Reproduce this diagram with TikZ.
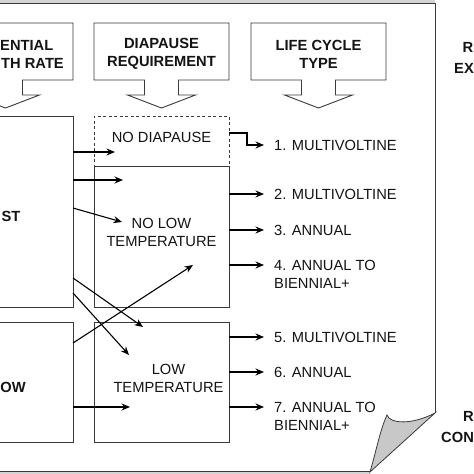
\documentclass[tikz,border=0pt]{standalone}
\usepackage{fontspec}
\setmainfont{Liberation Sans}
\usetikzlibrary{arrows.meta,calc}
\definecolor{edgec}{HTML}{3A3A3A}
\definecolor{bandc}{HTML}{D4D4D4}
\definecolor{foldc}{HTML}{C8C8C8}
\definecolor{txtc}{HTML}{141414}
\begin{document}
\begin{tikzpicture}[x=1pt,y=-1pt,
  box/.style={draw=edgec, line width=0.9pt, inner sep=0pt, outer sep=0pt, minimum width=135pt},
  dbox/.style={box, dash pattern=on 3pt off 2.5pt},
  hdr/.style={font=\fontsize{14.7}{18}\selectfont\bfseries, align=center, inner sep=0pt, text=txtc},
  body/.style={font=\fontsize{14.7}{18}\selectfont, align=center, inner sep=0pt, text=txtc},
  lbl/.style={font=\fontsize{14.7}{18}\selectfont, align=left, anchor=west, inner sep=0pt, text=txtc},
  arr/.style={-{Stealth[length=8.5pt,width=7pt]}, line width=1.1pt, black},
  callout/.style={draw=edgec, line width=0.9pt, fill=white},
]
\useasboundingbox (0,0) rectangle (474,474);
\fill[white] (0,0) rectangle (474,474);

% page
\fill[bandc] (0,0) rectangle (435,3);
\fill[bandc] (0,471) rectangle (370,474);
\draw[edgec, line width=0.7pt] (0,3) -- (435,3) -- (435,413);
\draw[edgec, line width=0.7pt] (0,471.5) -- (370,471.5);
\filldraw[fill=foldc, draw=edgec, line width=0.8pt]
  (387,415) .. controls (390,424) and (412,425) .. (435,413)
  -- (370,472) .. controls (376,452) and (380,430) .. cycle;

% header callouts
\foreach \cx in {5.5,161.5,318.5}{
  \draw[callout] (\cx-67.5,23) -- (\cx+67.5,23) -- (\cx+67.5,80) -- (\cx+17,80)
    -- (\cx+17,95) -- (\cx+34,95) -- (\cx,108) -- (\cx-34,95) -- (\cx-17,95)
    -- (\cx-17,80) -- (\cx-67.5,80) -- cycle;
}
\node[hdr, anchor=east] (g1) at (53.5,45.5) {ENTIAL};
\node[hdr, anchor=east] (g2) at (64,63) {TH RATE};
\node[hdr] (h2) at (161.5,54) {DIAPAUSE\\REQUIREMENT};
\node[hdr] (h3) at (318.5,54) {LIFE CYCLE\\TYPE};

% right-side cropped texts
\node[hdr, anchor=west] (r1) at (462.5,47) {R};
\node[hdr, anchor=west] (r2) at (454,68) {EX};
\node[hdr, anchor=west] (r3) at (463,416) {R};
\node[hdr, anchor=west] (r4) at (441,437) {CON};

% left boxes
\node[box, minimum height=191pt] (fast) at (5.5,211.5) {};
\node[box, minimum height=120pt] (slow) at (5.5,382) {};
\node[hdr, anchor=east] (fastt) at (20.5,216) {ST};
\node[hdr, anchor=east] (slowt) at (26,387) {OW};

% middle boxes
\node[dbox, minimum height=50pt] (nd) at (161.5,141) {};
\node[box, minimum height=141pt] (nlt) at (161.5,236.5) {};
\node[box, minimum height=120pt] (lt) at (161.5,382) {};
\node[body] (ndt) at (161.5,137) {NO DIAPAUSE};
\node[body] (nltt) at (161.5,232) {NO LOW\\TEMPERATURE};
\node[body] (ltt) at (168.5,378) {LOW\\TEMPERATURE};

% arrow tip coordinates inside middle boxes
\coordinate (ta) at (115,152);
\coordinate (tb) at (123,180);
\coordinate (tc) at (122,222);
\coordinate (td) at (143,327);
\coordinate (te) at (129,355);
\coordinate (tf) at (193,265);
\coordinate (tg) at (130,407);

\draw[arr] ($(fast.north east)+(0,36)$) -- (ta);
\draw[arr] ($(fast.north east)+(0,64)$) -- (tb);
\draw[arr] ($(fast.north east)+(0,92)$) -- (tc);
\draw[arr] ($(fast.north east)+(0,162)$) -- (td);
\draw[arr] ($(fast.north east)+(0,177)$) -- (te);
\draw[arr] ($(slow.north east)+(0,21)$) -- (tf);
\draw[arr] ($(slow.north east)+(0,85)$) -- (tg);

% outcome labels
\node[lbl] (o1) at (274,145) {1. MULTIVOLTINE};
\node[lbl] (o2) at (274,194) {2. MULTIVOLTINE};
\node[lbl] (o3) at (274,230) {3. ANNUAL};
\node[lbl] (o4) at (274,274) {4. ANNUAL TO\\BIENNIAL+};
\node[lbl] (o5) at (274,337) {5. MULTIVOLTINE};
\node[lbl] (o6) at (274,372) {6. ANNUAL};
\node[lbl] (o7) at (274,416) {7. ANNUAL TO\\BIENNIAL+};

\coordinate (c1) at (264,145);
\coordinate (c2) at (264,194);
\coordinate (c3) at (264,230);
\coordinate (c4) at (264,265);
\coordinate (c5) at (264,337);
\coordinate (c6) at (264,372);
\coordinate (c7) at (264,407);

\draw[arr] ($(nd.north east)+(0,17)$) -- ++(18,0) |- (c1);
\draw[arr] ($(nlt.north east)+(0,28)$) -- (c2);
\draw[arr] ($(nlt.north east)+(0,64)$) -- (c3);
\draw[arr] ($(nlt.north east)+(0,99)$) -- (c4);
\draw[arr] ($(lt.north east)+(0,15)$) -- (c5);
\draw[arr] ($(lt.north east)+(0,50)$) -- (c6);
\draw[arr] ($(lt.north east)+(0,85)$) -- (c7);
\end{tikzpicture}
\end{document}
